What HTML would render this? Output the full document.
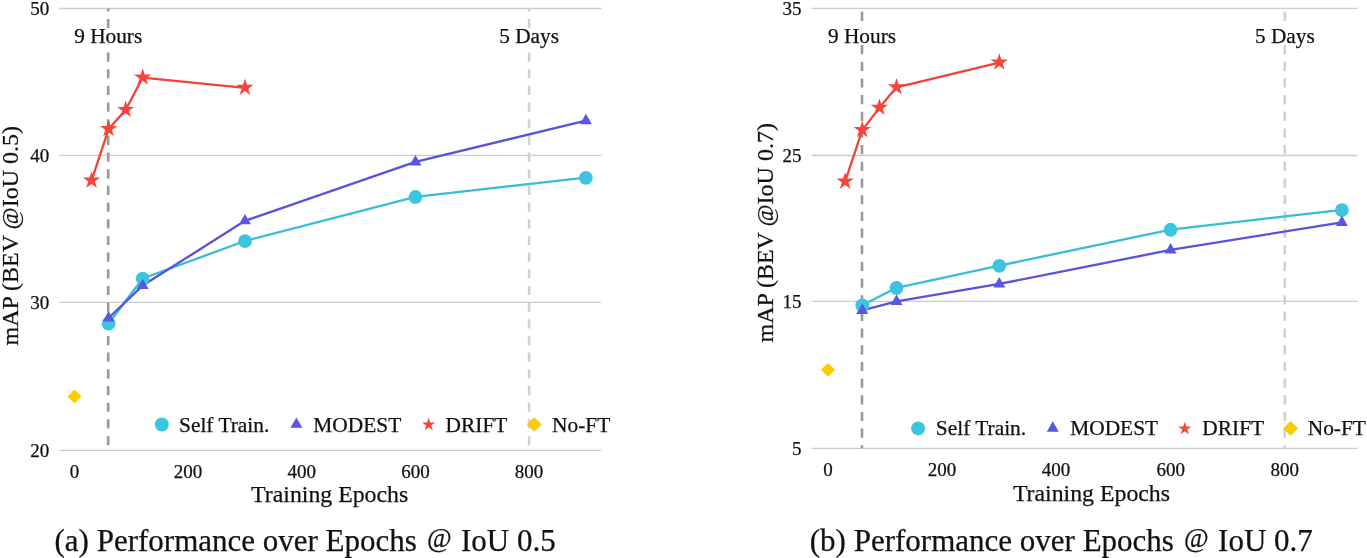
<!DOCTYPE html>
<html><head><meta charset="utf-8"><title>Performance over Epochs</title>
<style>
html,body{margin:0;padding:0;background:#fff;width:1367px;height:558px;overflow:hidden;}
svg{display:block;font-family:"Liberation Serif", serif;will-change:transform;} text{stroke:#111;stroke-width:0.25px;}
</style></head><body>
<svg width="1367" height="558" viewBox="0 0 1367 558">
<rect x="0" y="0" width="1367" height="558" fill="#ffffff"/>
<line x1="59.2" y1="8.5" x2="601.2" y2="8.5" stroke="#cccccc" stroke-width="1.3"/>
<line x1="59.2" y1="155.3" x2="601.2" y2="155.3" stroke="#cccccc" stroke-width="1.3"/>
<line x1="59.2" y1="302.4" x2="601.2" y2="302.4" stroke="#cccccc" stroke-width="1.3"/>
<line x1="59.2" y1="450.3" x2="601.2" y2="450.3" stroke="#cccccc" stroke-width="1.3"/>
<line x1="108.2" y1="8.5" x2="108.2" y2="450.3" stroke="#999999" stroke-width="2.6" stroke-dasharray="9.2 7.476" stroke-dashoffset="6.076"/>
<line x1="529.1" y1="8.5" x2="529.1" y2="450.3" stroke="#d0d0d0" stroke-width="2.6" stroke-dasharray="9.2 7.476" stroke-dashoffset="6.076"/>
<rect x="73.2" y="28.2" width="70" height="16.2" fill="#fff"/>
<text x="108.2" y="42.5" text-anchor="middle" font-size="21.3" fill="#111111">9 Hours</text>
<rect x="499.1" y="28.2" width="60" height="16.2" fill="#fff"/>
<text x="529.1" y="42.5" text-anchor="middle" font-size="21.3" fill="#111111">5 Days</text>
<polyline points="108.59,323.46 142.69,278.54 244.98,240.99 415.45,196.81 585.92,177.66" fill="none" stroke="#37bcd6" stroke-width="2.3" stroke-linejoin="round"/>
<polyline points="108.59,317.99 142.69,285.59 244.98,220.80 415.45,161.89 585.92,120.65" fill="none" stroke="#5752de" stroke-width="2.3" stroke-linejoin="round"/>
<polyline points="91.55,180.61 108.59,129.06 125.64,109.92 142.69,77.52 244.98,87.83" fill="none" stroke="#ee4338" stroke-width="2.3" stroke-linejoin="round"/>
<circle cx="108.59" cy="323.66" r="6.9" fill="#3cc5df"/>
<circle cx="142.69" cy="278.74" r="6.9" fill="#3cc5df"/>
<circle cx="244.98" cy="241.19" r="6.9" fill="#3cc5df"/>
<circle cx="415.45" cy="197.01" r="6.9" fill="#3cc5df"/>
<circle cx="585.92" cy="177.86" r="6.9" fill="#3cc5df"/>
<path d="M108.59,311.09 L114.59,321.49 L102.59,321.49 Z" fill="#5a55e2"/>
<path d="M142.69,278.69 L148.69,289.09 L136.69,289.09 Z" fill="#5a55e2"/>
<path d="M244.98,213.90 L250.98,224.30 L238.98,224.30 Z" fill="#5a55e2"/>
<path d="M415.45,154.99 L421.45,165.39 L409.45,165.39 Z" fill="#5a55e2"/>
<path d="M585.92,113.75 L591.92,124.15 L579.92,124.15 Z" fill="#5a55e2"/>
<path d="M91.55,171.31 L93.59,177.59 L100.20,177.59 L94.85,181.48 L96.90,187.77 L91.55,183.88 L86.20,187.77 L88.24,181.48 L82.89,177.59 L89.50,177.59 Z" fill="#f8453a"/>
<path d="M108.59,119.76 L110.64,126.05 L117.25,126.05 L111.90,129.94 L113.94,136.22 L108.59,132.34 L103.25,136.22 L105.29,129.94 L99.94,126.05 L106.55,126.05 Z" fill="#f8453a"/>
<path d="M125.64,100.62 L127.69,106.90 L134.30,106.90 L128.95,110.79 L130.99,117.08 L125.64,113.19 L120.29,117.08 L122.34,110.79 L116.99,106.90 L123.60,106.90 Z" fill="#f8453a"/>
<path d="M142.69,68.22 L144.73,74.50 L151.34,74.50 L146.00,78.39 L148.04,84.68 L142.69,80.79 L137.34,84.68 L139.38,78.39 L134.04,74.50 L140.65,74.50 Z" fill="#f8453a"/>
<path d="M244.98,78.53 L247.02,84.81 L253.63,84.81 L248.28,88.70 L250.32,94.99 L244.98,91.10 L239.63,94.99 L241.67,88.70 L236.32,84.81 L242.93,84.81 Z" fill="#f8453a"/>
<path d="M74.50,389.61 L81.60,396.41 L74.50,403.21 L67.40,396.41 Z" fill="#fccb00"/>
<circle cx="161.8" cy="424.5" r="7" fill="#3cc5df"/>
<path d="M296.40,417.45 L302.40,427.75 L290.40,427.75 Z" fill="#5a55e2"/>
<path d="M428.70,417.80 L430.25,422.57 L435.26,422.57 L431.21,425.51 L432.76,430.28 L428.70,427.34 L424.64,430.28 L426.19,425.51 L422.14,422.57 L427.15,422.57 Z" fill="#f8453a"/>
<path d="M534.20,417.20 L541.70,424.50 L534.20,431.80 L526.70,424.50 Z" fill="#fccb00"/>
<text x="179" y="431.6" font-size="21.4" fill="#111111">Self Train.</text>
<text x="313.3" y="431.6" font-size="21.4" fill="#111111">MODEST</text>
<text x="445.6" y="431.6" font-size="21.4" fill="#111111">DRIFT</text>
<text x="552.1" y="431.6" font-size="21.4" fill="#111111">No-FT</text>
<text x="49.3" y="14.9" text-anchor="end" font-size="19" fill="#111111">50</text>
<text x="49.3" y="161.70000000000002" text-anchor="end" font-size="19" fill="#111111">40</text>
<text x="49.3" y="308.79999999999995" text-anchor="end" font-size="19" fill="#111111">30</text>
<text x="49.3" y="456.7" text-anchor="end" font-size="19" fill="#111111">20</text>
<text x="74.5" y="478" text-anchor="middle" font-size="19" fill="#111111">0</text>
<text x="188" y="478" text-anchor="middle" font-size="19" fill="#111111">200</text>
<text x="301.7" y="478" text-anchor="middle" font-size="19" fill="#111111">400</text>
<text x="415.4" y="478" text-anchor="middle" font-size="19" fill="#111111">600</text>
<text x="529.1" y="478" text-anchor="middle" font-size="19" fill="#111111">800</text>
<text x="251.1" y="501.7" font-size="23.8" fill="#111111">Training Epochs</text>
<text transform="translate(18.0,345.4) rotate(-90)" x="0" y="0" font-size="24.0" fill="#111111">mAP (BEV @IoU 0.5)</text>
<text x="54.5" y="550.7" font-size="31" fill="#111111">(a) Performance over Epochs <tspan font-size="26.8" dx="2.3" dy="-4.2">@</tspan><tspan dx="1.7" dy="4.2"> IoU 0.5</tspan></text>
<line x1="811.7" y1="8.3" x2="1357.6" y2="8.3" stroke="#cccccc" stroke-width="1.3"/>
<line x1="811.7" y1="155.5" x2="1357.6" y2="155.5" stroke="#cccccc" stroke-width="1.3"/>
<line x1="811.7" y1="301.4" x2="1357.6" y2="301.4" stroke="#cccccc" stroke-width="1.3"/>
<line x1="811.7" y1="448.3" x2="1357.6" y2="448.3" stroke="#cccccc" stroke-width="1.3"/>
<line x1="862.0" y1="8.3" x2="862.0" y2="448.3" stroke="#999999" stroke-width="2.6" stroke-dasharray="9.2 7.476" stroke-dashoffset="13.276"/>
<line x1="1284.8" y1="8.3" x2="1284.8" y2="448.3" stroke="#d0d0d0" stroke-width="2.6" stroke-dasharray="9.2 7.476" stroke-dashoffset="13.276"/>
<rect x="827.0" y="28.2" width="70" height="16.2" fill="#fff"/>
<text x="862.0" y="42.9" text-anchor="middle" font-size="21.3" fill="#111111">9 Hours</text>
<rect x="1254.8" y="28.2" width="60" height="16.2" fill="#fff"/>
<text x="1284.8" y="42.9" text-anchor="middle" font-size="21.3" fill="#111111">5 Days</text>
<polyline points="862.26,305.25 896.52,287.80 999.30,265.65 1170.60,229.57 1341.90,209.92" fill="none" stroke="#37bcd6" stroke-width="2.3" stroke-linejoin="round"/>
<polyline points="862.26,310.38 896.52,301.43 999.30,283.98 1170.60,249.95 1341.90,222.38" fill="none" stroke="#5752de" stroke-width="2.3" stroke-linejoin="round"/>
<polyline points="845.13,181.61 862.26,130.13 879.39,107.84 896.52,87.30 999.30,62.51" fill="none" stroke="#ee4338" stroke-width="2.3" stroke-linejoin="round"/>
<circle cx="862.26" cy="305.45" r="6.9" fill="#3cc5df"/>
<circle cx="896.52" cy="288.00" r="6.9" fill="#3cc5df"/>
<circle cx="999.30" cy="265.85" r="6.9" fill="#3cc5df"/>
<circle cx="1170.60" cy="229.77" r="6.9" fill="#3cc5df"/>
<circle cx="1341.90" cy="210.12" r="6.9" fill="#3cc5df"/>
<path d="M862.26,303.48 L868.26,313.88 L856.26,313.88 Z" fill="#5a55e2"/>
<path d="M896.52,294.53 L902.52,304.93 L890.52,304.93 Z" fill="#5a55e2"/>
<path d="M999.30,277.08 L1005.30,287.48 L993.30,287.48 Z" fill="#5a55e2"/>
<path d="M1170.60,243.05 L1176.60,253.45 L1164.60,253.45 Z" fill="#5a55e2"/>
<path d="M1341.90,215.48 L1347.90,225.88 L1335.90,225.88 Z" fill="#5a55e2"/>
<path d="M845.13,172.31 L847.17,178.60 L853.78,178.60 L848.44,182.48 L850.48,188.77 L845.13,184.89 L839.78,188.77 L841.82,182.48 L836.48,178.60 L843.09,178.60 Z" fill="#f8453a"/>
<path d="M862.26,120.83 L864.30,127.12 L870.91,127.12 L865.57,131.00 L867.61,137.29 L862.26,133.41 L856.91,137.29 L858.95,131.00 L853.61,127.12 L860.22,127.12 Z" fill="#f8453a"/>
<path d="M879.39,98.54 L881.43,104.82 L888.04,104.82 L882.70,108.71 L884.74,115.00 L879.39,111.11 L874.04,115.00 L876.08,108.71 L870.74,104.82 L877.35,104.82 Z" fill="#f8453a"/>
<path d="M896.52,78.00 L898.56,84.29 L905.17,84.29 L899.83,88.18 L901.87,94.46 L896.52,90.58 L891.17,94.46 L893.21,88.18 L887.87,84.29 L894.48,84.29 Z" fill="#f8453a"/>
<path d="M999.30,53.21 L1001.34,59.50 L1007.95,59.50 L1002.61,63.39 L1004.65,69.68 L999.30,65.79 L993.95,69.68 L995.99,63.39 L990.65,59.50 L997.26,59.50 Z" fill="#f8453a"/>
<path d="M828.00,363.04 L835.10,369.84 L828.00,376.64 L820.90,369.84 Z" fill="#fccb00"/>
<circle cx="918.1" cy="428.4" r="7" fill="#3cc5df"/>
<path d="M1052.80,421.35 L1058.80,431.65 L1046.80,431.65 Z" fill="#5a55e2"/>
<path d="M1184.80,421.70 L1186.35,426.47 L1191.36,426.47 L1187.31,429.41 L1188.86,434.18 L1184.80,431.24 L1180.74,434.18 L1182.29,429.41 L1178.24,426.47 L1183.25,426.47 Z" fill="#f8453a"/>
<path d="M1290.50,421.10 L1298.00,428.40 L1290.50,435.70 L1283.00,428.40 Z" fill="#fccb00"/>
<text x="935.8" y="435.4" font-size="21.4" fill="#111111">Self Train.</text>
<text x="1070.2" y="435.4" font-size="21.4" fill="#111111">MODEST</text>
<text x="1202.3" y="435.4" font-size="21.4" fill="#111111">DRIFT</text>
<text x="1307.7" y="435.4" font-size="21.4" fill="#111111">No-FT</text>
<text x="801.5" y="14.700000000000001" text-anchor="end" font-size="19" fill="#111111">35</text>
<text x="801.5" y="161.9" text-anchor="end" font-size="19" fill="#111111">25</text>
<text x="801.5" y="307.79999999999995" text-anchor="end" font-size="19" fill="#111111">15</text>
<text x="801.5" y="454.7" text-anchor="end" font-size="19" fill="#111111">5</text>
<text x="828" y="475.5" text-anchor="middle" font-size="19" fill="#111111">0</text>
<text x="942" y="475.5" text-anchor="middle" font-size="19" fill="#111111">200</text>
<text x="1056.1" y="475.5" text-anchor="middle" font-size="19" fill="#111111">400</text>
<text x="1170.8" y="475.5" text-anchor="middle" font-size="19" fill="#111111">600</text>
<text x="1284.8" y="475.5" text-anchor="middle" font-size="19" fill="#111111">800</text>
<text x="1012.9" y="501.1" font-size="23.8" fill="#111111">Training Epochs</text>
<text transform="translate(773.1,342.5) rotate(-90)" x="0" y="0" font-size="24.0" fill="#111111">mAP (BEV @IoU 0.7)</text>
<text x="809.8" y="550.7" font-size="31" fill="#111111">(b) Performance over Epochs <tspan font-size="26.8" dx="2.3" dy="-4.2">@</tspan><tspan dx="1.7" dy="4.2"> IoU 0.7</tspan></text>
</svg>
</body></html>
